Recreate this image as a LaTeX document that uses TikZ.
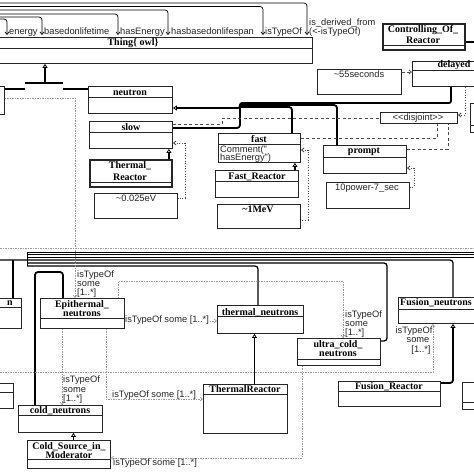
\documentclass[tikz,border=0pt]{standalone}
\usepackage{fontspec}
\newfontfamily\sansf{Liberation Sans}
\newfontfamily\seriff{Liberation Serif}
\usetikzlibrary{arrows.meta}
\newcommand\UMLbox[6]{%
  \node[cls, minimum width=#4pt, minimum height=#5pt] (#1) at (#2,#3) {};
  \draw[sepl] ([yshift=-#6pt]#1.north west) -- ([yshift=-#6pt]#1.north east);}
\tikzset{
  cls/.style={draw=black!85, line width=0.9pt, inner sep=0pt, anchor=north west},
  sepl/.style={draw=black!85, line width=0.8pt},
  ttl/.style={font=\seriff\bfseries\fontsize{10}{10}\selectfont, inner sep=0pt, anchor=base},
  lbl/.style={font=\sansf\fontsize{9.3}{9.3}\selectfont, inner sep=0pt, anchor=base west, text=black!85},
  thk/.style={line width=1.8pt, rounded corners=3pt},
  bus/.style={line width=1.3pt, rounded corners=3pt},
  gen/.style={thk, -{Triangle[open, length=4pt, width=5pt, line width=0.8pt]}},
  assoc/.style={line width=0.7pt, rounded corners=3pt, -{Straight Barb[length=2.5pt, width=4pt]}},
  dsh/.style={draw=black!70, line width=0.7pt, dash pattern=on 3pt off 2.5pt},
  dtd/.style={draw=black!70, line width=0.9pt, dash pattern=on 1pt off 1.6pt},
  gry/.style={draw=black!40, line width=0.6pt, dash pattern=on 1.5pt off 1pt},
  barb/.style={-{Straight Barb[length=2.5pt, width=4pt]}},
  rbarb/.style={{Straight Barb[length=2.5pt, width=4pt]}-},
}
\begin{document}
\begin{tikzpicture}[x=1pt, y=-1pt]
\useasboundingbox (0,0) rectangle (474,474);
\fill[white] (0,0) rectangle (474,474);
\begin{scope}
\clip (0,0) rectangle (474,474);
% ---------------- boxes (upper part)
\UMLbox{thing}{-46}{37}{358}{26}{11}
\node[ttl] (thing-t) at (133,45) {Thing\{ owl\}};
\UMLbox{ctrl}{382}{23}{83}{27}{22}
\draw[black!85, line width=0.6pt] ([shift={(1.6pt,-1.6pt)}]ctrl.north west) rectangle ([shift={(-1.6pt,1.6pt)}]ctrl.south east);
\node[ttl] (ctrl-t1) at (423,32) {Controlling\_Of\_};
\node[ttl] (ctrl-t2) at (423,43) {Reactor};
\UMLbox{delayed}{412}{61}{84}{25}{9}
\node[ttl] (delayed-t) at (454,67) {delayed};
\node[cls, minimum width=84pt, minimum height=25pt] (s55) at (317,69) {};
\node[lbl, anchor=base] (s55-t) at (359,77) {\textasciitilde55seconds};
\node[cls, minimum width=64pt, minimum height=28pt] (lt) at (-60,86) {};
\UMLbox{neutron}{88}{86}{84}{27}{11}
\node[ttl] (neutron-t) at (130,95) {neutron};
\UMLbox{slow}{89}{121}{83}{27}{11}
\node[ttl] (slow-t) at (131,130) {slow};
\node[cls, minimum width=77pt, minimum height=11pt] (disj) at (380,112) {};
\node[lbl, anchor=base] (disj-t) at (418,120) {<<disjoint>>};
\UMLbox{rmid}{470}{103}{30}{29}{22}
\UMLbox{fast}{218}{133}{82}{29}{11}
\node[ttl] (fast-t) at (259,142) {fast};
\node[lbl] (fast-c1) at (220,152) {Comment("};
\node[lbl] (fast-c2) at (220,160) {hasEnergy")};
\UMLbox{prompt}{323}{145}{83}{28}{12}
\node[ttl] (prompt-t) at (364,153) {prompt};
\UMLbox{thr}{89}{159}{83}{28}{23}
\draw[black!85, line width=0.6pt] ([shift={(1.6pt,-1.6pt)}]thr.north west) rectangle ([shift={(-1.6pt,1.6pt)}]thr.south east);
\node[ttl] (thr-t1) at (130,168) {Thermal\_};
\node[ttl] (thr-t2) at (130,180) {Reactor};
\UMLbox{fr}{215}{170}{83}{27}{11}
\node[ttl] (fr-t) at (257,179) {Fast\_Reactor};
\node[cls, minimum width=83pt, minimum height=26pt] (pw) at (326,182) {};
\node[lbl, anchor=base] (pw-t) at (367,190) {10power-7\_sec};
\node[cls, minimum width=83pt, minimum height=25pt] (e025) at (94,193) {};
\node[lbl, anchor=base] (e025-t) at (136,201) {\textasciitilde0.025eV};
\node[cls, minimum width=83pt, minimum height=24pt] (mev) at (217,204) {};
\node[ttl] (mev-t) at (258,212) {\textasciitilde1MeV};
% ---------------- boxes (lower part)
\UMLbox{ln}{-60}{298}{81}{30}{9}
\node[ttl] (ln-t) at (10,305) {n};
\UMLbox{epi}{40}{298}{84}{30}{20}
\node[ttl] (epi-t1) at (82,307) {Epithermal\_};
\node[ttl] (epi-t2) at (82,316) {neutrons};
\UMLbox{thn}{217}{305}{86}{28}{11}
\node[ttl] (thn-t) at (260,315) {thermal\_neutrons};
\UMLbox{uc}{297}{338}{83}{27}{21}
\node[ttl] (uc-t1) at (338,347) {ultra\_cold\_};
\node[ttl] (uc-t2) at (338,356) {neutrons};
\UMLbox{fn}{398}{297}{90}{26}{12}
\node[ttl, anchor=base west] (fn-t) at (400,305) {Fusion\_neutrons};
\UMLbox{trx}{203}{384}{84}{49}{10}
\node[ttl] (trx-t) at (245,392) {ThermalReactor};
\UMLbox{fr2}{338}{381}{102}{25}{10}
\node[ttl] (fr2-t) at (389,389) {Fusion\_Reactor};
\UMLbox{rbot}{462}{382}{30}{27}{20}
\UMLbox{lb}{-60}{383}{73}{25}{9}
\UMLbox{cold}{18}{405}{84}{27}{10}
\node[ttl] (cold-t) at (60,413) {cold\_neutrons};
\UMLbox{cs}{27}{440}{83}{28}{19}
\node[ttl] (cs-t1) at (69,449) {Cold\_Source\_in\_};
\node[ttl] (cs-t2) at (69,458) {Moderator};
% ---------------- top arcs into Thing
\coordinate (a1) at (-5,19);  \coordinate (t1) at (7,35);
\coordinate (a2) at (-5,17);  \coordinate (t2) at (42,35);
\coordinate (a3) at (-5,14);  \coordinate (t3) at (118,35);
\coordinate (a4) at (-5,10);  \coordinate (t4) at (168,35);
\coordinate (a5) at (-5,6.5); \coordinate (t5) at (263,35);
\coordinate (a6) at (-5,3);   \coordinate (t6) at (307,35);
\draw[assoc] (a1) -| (t1);
\draw[assoc] (a2) -| (t2);
\draw[assoc] (a3) -| (t3);
\draw[assoc] (a4) -| (t4);
\draw[assoc] (a5) -| (t5);
\draw[assoc] (a6) -| (t6);
\node[lbl] (l1) at (9,34) {energy};
\node[lbl] (l2) at (44,34) {basedonlifetime};
\node[lbl] (l3) at (120,34) {hasEnergy};
\node[lbl] (l4) at (171,34) {hasbasedonlifespan};
\node[lbl] (l5) at (265,34) {isTypeOf};
\node[lbl] (l6) at (309,25) {is\_derived\_from};
\node[lbl] (l7) at (309,34) {(<-isTypeOf)};
% ---------------- hierarchy under Thing
\coordinate (barm) at (45,83);
\draw[gen] (barm) -- (barm |- thing.south);
\draw[line width=2.8pt] (25,83) -- (63,83);
\draw[line width=1.3pt] (lt.east |- 0,89) -- (25,89);
\draw[line width=1.3pt] (63,89) -- (neutron.west |- 0,89);
% ---------------- upper bus
\draw[line width=1.8pt, rounded corners=2pt, {Triangle[open, length=4pt, width=5pt, line width=0.8pt]}-]
  (neutron.east |- 0,108) -- (240,108) -- (240,103) -- (451,103) -- (delayed.south -| 451,0);
\draw[thk] (slow.east |- 0,128) -- (240,128) -- (240,106);
\draw[thk] (240,107) -- (292,107) -- (fast.north -| 292,0);
\draw[thk] (240,105) -- (337,105) -- (prompt.north -| 337,0);
\draw[thk] (ctrl.east |- 0,42) -- (480,42);
\coordinate (g1) at ([xshift=-4pt]thr.north east);
\draw[gen] (g1) -- (g1 |- slow.south);
\coordinate (g2) at ([xshift=-4pt]fr.north east);
\draw[gen] (g2) -- (g2 |- fast.south);
% dotted / dashed relations
\draw[dtd, rbarb] (slow.east |- 0,143) -- (185,143) -- (185,198) -- (e025.east |- 0,198);
\draw[dtd, rbarb] (fast.east |- 0,150) -- (308,150) -- (308,220) -- (mev.east |- 0,220);
\draw[dtd, rbarb] (prompt.east |- 0,168) -- (414,168) -- (414,187) -- (pw.east |- 0,187);
\draw[dsh, barb] (s55.east |- 0,72) -- (delayed.west |- 0,72);
\draw[dsh] (slow.east |- 0,124) -- (222,124) -- (222,118) -- (disj.west |- 0,118);
\draw[dsh] (fast.east |- 0,138) -- (437,138) -- (disj.south -| 437,0);
\draw[dsh] (prompt.east |- 0,149) -- (448,149) -- (disj.south -| 448,0);
\draw[dtd, barb] (delayed.south -| 465,0) -- (465,115) -- (disj.east |- 0,115);
% ---------------- lower bus
\draw[line width=0.7pt] (27,252) -- (480,252);
\draw[line width=1.3pt] (27,254.5) -- (480,254.5);
\draw[line width=0.7pt] (27,257) -- (480,257);
\draw[line width=0.9pt] (27,252) -- (27,266);
\draw[bus] (-5,260) -- (453,260) -- (fn.north -| 453,0);
\draw[bus] (13,260) -- (ln.north -| 13,0);
\draw[bus] (27,263) -- (387,263) -- (387,341) -- (uc.east |- 0,341);
\draw[bus] (27,266) -- (258,266) -- (thn.north -| 258,0);
\draw[thk] (cold.north -| 35,0) -- (35,272) -- (63,272) -- (epi.north -| 63,0);
\draw[gen] (fr2.north east |- 0,383) -- (453,383) -- (fn.south -| 453,0);
\coordinate (g3) at ([xshift=4.5pt]cs.north);
\draw[gen] (g3) -- (g3 |- cold.south);
\coordinate (g4) at ([xshift=9pt]trx.north);
\draw[gen] (g4) -- (g4 |- thn.south);
% ---------------- gray isTypeOf relations
\draw[gry] (-5,248) -- (480,248);
\draw[gry, barb] (lt.east |- 0,98) -- (75,98) -- (epi.north -| 75,0);
\draw[gry, barb] (epi.north -| 118,0) -- (118,281) -- (343,281) -- (uc.north -| 343,0);
\draw[gry, barb] (epi.east |- 0,321) -- (thn.west |- 0,321);
\draw[gry, barb] (epi.south -| 62,0) -- (cold.north -| 62,0);
\draw[gry, barb] (epi.south -| 106,0) -- (106,399) -- (trx.west |- 0,399);
\draw[gry, barb] (uc.south -| 302,0) -- (302,458) -- (cs.east |- 0,458);
\draw[gry, barb] (-5,372) -- (433,372) -- (fn.south -| 433,0);
% labels
\node[lbl] (la1) at (77,277) {isTypeOf};
\node[lbl] (la2) at (77,286) {some};
\node[lbl] (la3) at (77,295) {[1..*]};
\node[lbl, fill=white] (lb1) at (125,322) {isTypeOf some [1..*]};
\node[lbl] (lc1) at (345,317) {isTypeOf};
\node[lbl] (lc2) at (345,326) {some};
\node[lbl] (lc3) at (345,335) {[1..*]};
\node[lbl, anchor=base] (ld1) at (414,333) {isTypeOf};
\node[lbl, anchor=base] (ld2) at (418,342) {some};
\node[lbl, anchor=base] (ld3) at (421,352) {[1..*]};
\node[lbl] (le1) at (63,382) {isTypeOf};
\node[lbl] (le2) at (63,392) {some};
\node[lbl] (le3) at (63,401) {[1..*]};
\node[lbl, fill=white] (lf1) at (112,397) {isTypeOf some [1..*]};
\node[lbl] (lg1) at (113,465) {isTypeOf some [1..*]};
\end{scope}
\end{tikzpicture}
\end{document}
